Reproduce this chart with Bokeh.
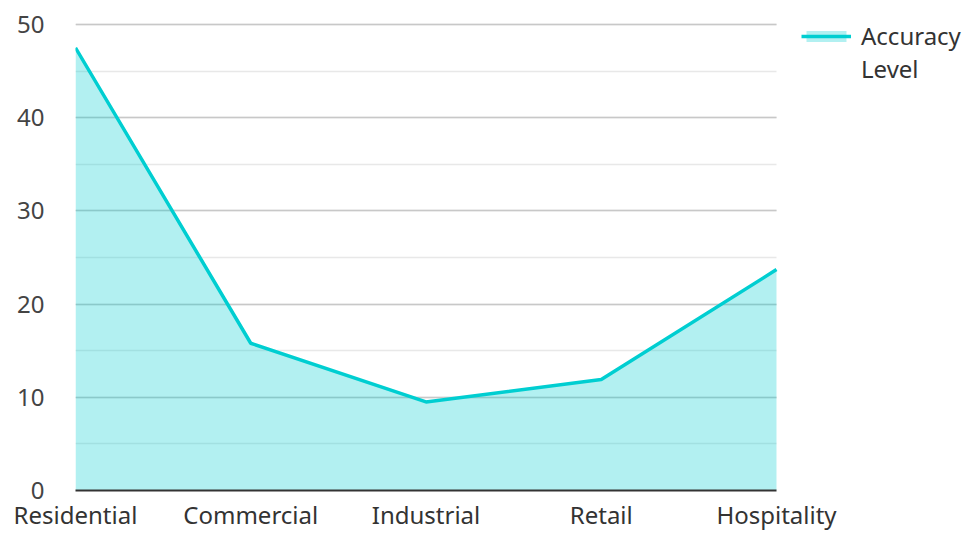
from bokeh.plotting import figure
from bokeh.models import Range1d, SingleIntervalTicker, FixedTicker, Legend, LegendItem, ColumnDataSource
from bokeh.embed import file_html
from bokeh.resources import INLINE

categories = ["Residential", "Commercial", "Industrial", "Retail", "Hospitality"]
accuracy = [47.5, 15.8, 9.5, 11.9, 23.7]
series_label_lines = ["Accuracy", "Level"]

xs = list(range(len(categories)))
src = ColumnDataSource(dict(x=xs, y=accuracy, base=[0] * len(xs)))

FONT = "Noto Sans"
CYAN = "#00CED1"
FS = "24px"

# plot frame spans the legend area too; data occupy x in [0, n-1]
n = len(categories)
x_end = (n - 1) * 888 / 701

p = figure(width=966, height=533, output_backend="svg", toolbar_location=None,
           x_range=Range1d(0, x_end), y_range=Range1d(0, 51.5),
           min_border_left=75, min_border_top=10, min_border_bottom=43, min_border_right=3)
p.outline_line_color = None
p.background_fill_color = "white"
p.border_fill_color = "white"

area = p.varea(x="x", y1="base", y2="y", source=src, fill_color=CYAN, fill_alpha=0.3)
ln = p.line(x="x", y="y", source=src, line_color=CYAN, line_width=3.5)
blank = p.line(x=[], y=[], line_alpha=0)

p.xaxis.ticker = FixedTicker(ticks=xs)
p.xaxis.bounds = (0, n - 1)
p.xaxis.major_label_overrides = {i: c for i, c in enumerate(categories)}
p.xaxis.axis_line_color = "#333333"
p.xaxis.axis_line_width = 2
p.xaxis.major_tick_line_color = None
p.xaxis.minor_tick_line_color = None
p.xaxis.major_tick_out = 0
p.xaxis.major_tick_in = 0
p.xaxis.major_label_text_font = FONT
p.xaxis.major_label_text_font_size = FS
p.xaxis.major_label_text_color = "#333333"
p.xaxis.major_label_text_line_height = 1.0
p.xaxis.major_label_standoff = 7

p.yaxis.ticker = SingleIntervalTicker(interval=10, num_minor_ticks=2)
p.yaxis.bounds = (0, 50)
p.yaxis.axis_line_color = None
p.yaxis.major_tick_line_color = None
p.yaxis.minor_tick_line_color = None
p.yaxis.major_tick_out = 0
p.yaxis.major_tick_in = 0
p.yaxis.major_label_text_font = FONT
p.yaxis.major_label_text_font_size = FS
p.yaxis.major_label_text_color = "#444444"
p.yaxis.major_label_standoff = 27

p.xgrid.grid_line_color = None
yg = p.ygrid[0]
yg.grid_line_color = "#c8c8c8"
yg.grid_line_width = 1.5
yg.minor_grid_line_color = "#e8e8e8"
yg.minor_grid_line_width = 1.5
yg.cross_bounds = (0, n - 1)

legend = Legend(items=[LegendItem(label=series_label_lines[0], renderers=[area, ln]),
                       LegendItem(label=series_label_lines[1], renderers=[blank])],
                location=(726, 405), border_line_color=None, background_fill_alpha=0,
                glyph_width=50, glyph_height=14, label_standoff=10, spacing=0,
                label_text_font=FONT, label_text_font_size=FS, label_text_color="#333333",
                padding=0, margin=0)
p.add_layout(legend)

open("out.html", "w").write(file_html(p, INLINE))
